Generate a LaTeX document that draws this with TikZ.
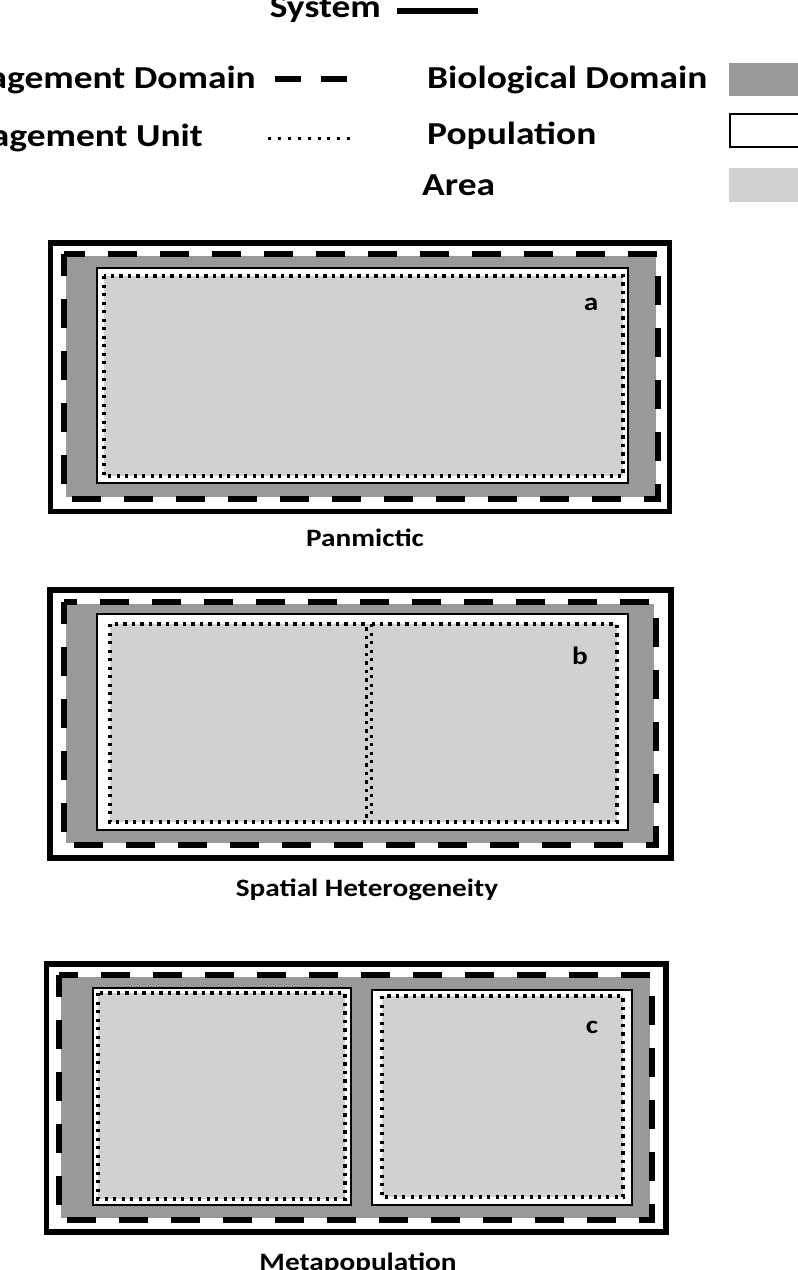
\documentclass[tikz,border=0pt]{standalone}
\usepackage{fontspec}
\setmainfont{Carlito}[FakeStretch=1.17]
\usetikzlibrary{positioning}
\definecolor{biogray}{gray}{0.6}
\definecolor{areagray}{gray}{0.82}
\tikzset{
        % System border
        system_line/.style={draw=black, line width=5.5pt},
        % Management domain border
        mgmt_domain/.style={draw=black, line width=6pt, dash pattern=on 29pt off 23pt, dash phase=7pt},
        % Management unit border
        mgmt_unit/.style={draw=black, line width=3.3pt, dash pattern=on 3.3pt off 5.2pt},
        % Biological domain fill
        bio_domain/.style={fill=biogray},
        % Population box
        pop_box/.style={draw=black, fill=white, line width=1.5pt},
        % Area fill
        area_fill/.style={fill=areagray},
        % Texts
        legend_text/.style={inner sep=0pt, font=\fontsize{32}{36}\selectfont\bfseries},
        caption_text/.style={inner sep=0pt, font=\fontsize{25}{30}\selectfont\bfseries}
}

\begin{document}
\begin{tikzpicture}[x=1pt, y=-1pt]
            \useasboundingbox (0,0) rectangle (798,1270);
            \clip (0,0) rectangle (798,1270);

            % Legend
            \node[legend_text, anchor=base east] (lg_system) at (381,17) {System};
            \coordinate (lg_system_a) at (397,11);
            \coordinate (lg_system_b) at (478,11);
            \draw[black, line width=6pt] (lg_system_a) -- (lg_system_b);

            \node[legend_text, anchor=base east] (lg_mdomain) at (256,88) {Management Domain};
            \coordinate (lg_mdomain_a) at (275,79);
            \coordinate (lg_mdomain_b) at (347,79);
            \draw[black, line width=6pt, dash pattern=on 26pt off 20pt] (lg_mdomain_a) -- (lg_mdomain_b);

            \node[legend_text, anchor=base east] (lg_munit) at (203,146) {Management Unit};
            \coordinate (lg_munit_a) at (268,138);
            \coordinate (lg_munit_b) at (350,138);
            \draw[black, line width=3pt, dash pattern=on 3pt off 6.9pt] (lg_munit_a) -- (lg_munit_b);

            \node[legend_text, anchor=base west] (lg_bio) at (427,88) {Biological Domain};
            \node[legend_text, anchor=base west] (lg_pop) at (427,144) {Population};
            \node[legend_text, anchor=base west] (lg_area) at (422,195) {Area};
            \path[bio_domain] (729,63) rectangle (820,96);
            \draw[black, line width=2pt, fill=white] (730,114) rectangle (820,147);
            \path[area_fill] (729,168) rectangle (820,202);

            % a: Panmictic
            \draw[system_line] (50.5,243) rectangle (669.5,511.5);
            \path[bio_domain] (66,256) rectangle (656,497);
            \draw[mgmt_domain] (64,254) rectangle (658,499);
            \draw[pop_box] (97,268) rectangle (628,483);
            \path[area_fill] (104,276) rectangle (623,476);
            \draw[mgmt_unit] (104,276) rectangle (623,476);
            \node[caption_text, anchor=base] (lbl_a) at (591,310) {a};
            \node[caption_text, anchor=base] (cap_a) at (365,546) {Panmictic};

            % b: Spatial Heterogeneity
            \draw[system_line] (50,590) rectangle (671,858);
            \path[bio_domain] (66,604) rectangle (654,843);
            \draw[mgmt_domain] (64,602) rectangle (656,845);
            \draw[pop_box] (97,614) rectangle (628,830);
            \path[area_fill] (110,624) rectangle (617,822);
            \draw[mgmt_unit] (110,624) rectangle (366.5,822);
            \draw[mgmt_unit] (371.5,624) rectangle (617,822);
            \node[caption_text, anchor=base] (lbl_b) at (580,664) {b};
            \node[caption_text, anchor=base] (cap_b) at (367,896) {Spatial Heterogeneity};

            % c: Metapopulation
            \draw[system_line] (46.5,964) rectangle (666,1232);
            \path[bio_domain] (61,977) rectangle (650,1218);
            \draw[mgmt_domain] (59,975) rectangle (652,1220);
            \draw[pop_box] (93,988) rectangle (351,1205);
            \draw[pop_box] (372,990) rectangle (632,1205);
            \path[area_fill] (98,993) rectangle (345,1199);
            \draw[mgmt_unit] (98,993) rectangle (345,1199);
            \path[area_fill] (382,996) rectangle (623,1197);
            \draw[mgmt_unit] (382,996) rectangle (623,1197);
            \node[caption_text, anchor=base] (lbl_c) at (592,1033) {c};
            \node[caption_text, anchor=base] (cap_c) at (358,1270) {Metapopulation};
\end{tikzpicture}
\end{document}
